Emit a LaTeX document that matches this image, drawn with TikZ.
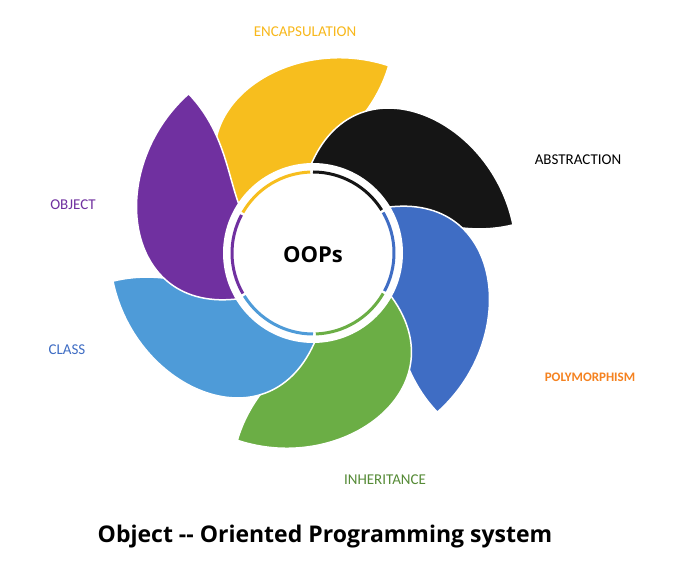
\documentclass[tikz,border=0pt]{standalone}
\usepackage{fontspec}
\setmainfont{Carlito}
\newfontfamily\titlefont{Open Sans}
\usetikzlibrary{calc}
\begin{document}
\begin{tikzpicture}[x=1pt,y=1pt]
\definecolor{cyel}{HTML}{F7BE1E}
\definecolor{cblk}{HTML}{151515}
\definecolor{cblu}{HTML}{3F6DC4}
\definecolor{cgrn}{HTML}{6BAE45}
\definecolor{clbl}{HTML}{4E9BD8}
\definecolor{cpur}{HTML}{7030A0}
\definecolor{corg}{HTML}{F58220}
\tikzset{lbl/.style={font=\fontsize{15}{17}\selectfont}}
\useasboundingbox (0,0) rectangle (675,-585);
\fill[white] (0,0) rectangle (675,-585);
\coordinate (c) at (313,-253);
\foreach \a/\col in {0/cyel,-60/cblk,-120/cblu,-180/cgrn,-240/clbl,-300/cpur}{
  \fill[\col,draw=white,line width=1.5pt] ($(c)+(\a+152:86)$) .. controls ($(c)+(\a+138:200)$) and ($(c)+(\a+98:225)$) .. ($(c)+(\a+68:202)$)
   .. controls ($(c)+(\a+66:150)$) and ($(c)+(\a+78:115)$) .. ($(c)+(\a+88:86)$) -- (c) -- cycle;
}
\fill[white] (c) circle (90);
\foreach \a/\col in {0/cyel,-60/cblk,-120/cblu,-180/cgrn,-240/clbl,-300/cpur}{
  \draw[\col,line width=3pt] ($(c)+(\a+150:81)$) arc[start angle=\a+150,end angle=\a+92,radius=81];
}
\fill[white] (c) circle (77);
\node[font=\titlefont\bfseries\fontsize{22}{24}\selectfont] (oops) at (313,-255) {OOPs};
\node[lbl,text=cyel!90!orange] (l1) at (305,-32) {ENCAPSULATION};
\node[lbl,text=black] (l2) at (578,-160) {ABSTRACTION};
\node[text=corg,font=\bfseries\fontsize{13}{15}\selectfont] (l3) at (590,-377) {POLYMORPHISM};
\node[lbl,text=cgrn!80!black] (l4) at (385,-480) {INHERITANCE};
\node[lbl,text=cblu] (l5) at (67,-350) {CLASS};
\node[lbl,text=cpur] (l6) at (73,-205) {OBJECT};
\node[font=\titlefont\bfseries\fontsize{23}{26}\selectfont] (t) at (325,-537) {Object -- Oriented Programming system};
\end{tikzpicture}
\end{document}
